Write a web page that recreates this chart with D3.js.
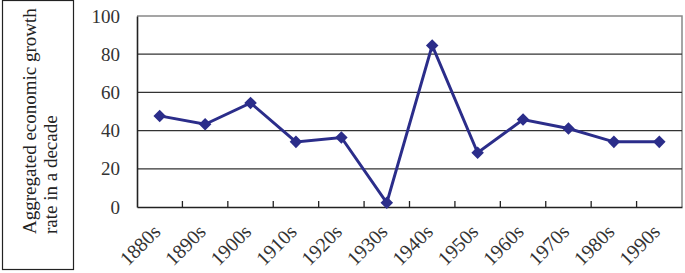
<!DOCTYPE html>
<html><head><meta charset="utf-8">
<script src="https://cdn.jsdelivr.net/npm/d3@7"></script>
<style>body{margin:0;background:#fff}svg{display:block}text{font-family:"Liberation Serif","DejaVu Serif",serif}</style>
</head><body>
<script>
const categories = ["1880s","1890s","1900s","1910s","1920s","1930s","1940s","1950s","1960s","1970s","1980s","1990s"];
const values = [47.7, 43.3, 54.5, 34.1, 36.4, 2.2, 84.6, 28.4, 45.8, 41.1, 34.1, 34.1];
const yTicks = [0, 20, 40, 60, 80, 100];
const yTitleLines = ["Aggregated economic growth", "rate in a decade"];

const W = 685, H = 273;
const m = {left: 137, right: 3, top: 16, bottom: 66};
const svg = d3.select("body").append("svg").attr("width", W).attr("height", H);

const x = d3.scaleBand().domain(categories).range([m.left, W - m.right]);
const y = d3.scaleLinear().domain([0, 100]).range([H - m.bottom, m.top]);

// title box
svg.append("rect").attr("x", 2.5).attr("y", 0.5).attr("width", 71).attr("height", 269)
  .attr("fill", "none").attr("stroke", "#222").attr("stroke-width", 1.2);
const tg = svg.append("g").attr("transform", "translate(39,234) rotate(-90)");
tg.selectAll("text").data(yTitleLines).enter().append("text")
  .attr("x", 0).attr("y", (d, i) => -10 + i * 21).attr("dy", "0.35em")
  .attr("text-anchor", "start").attr("font-size", 19)
  .attr("fill", "#222").text(d => d);

// plot frame top/right
svg.append("path")
  .attr("d", `M${m.left},${m.top}H${W - m.right}V${H - m.bottom}`)
  .attr("fill", "none").attr("stroke", "#888").attr("stroke-width", 1.5);

// gridlines
svg.append("g").selectAll("line").data(yTicks.filter(t => t > 0 && t < 100)).enter().append("line")
  .attr("x1", m.left).attr("x2", W - m.right)
  .attr("y1", d => y(d)).attr("y2", d => y(d))
  .attr("stroke", "#333").attr("stroke-width", 1.3);

// y axis
const yAxis = svg.append("g").attr("transform", `translate(${m.left},0)`)
  .call(d3.axisLeft(y).tickValues(yTicks).tickSize(0).tickPadding(17));
yAxis.attr("font-family", null);
yAxis.select(".domain").attr("stroke", "#222").attr("stroke-width", 1.6);
yAxis.selectAll("text").attr("font-size", 19).attr("fill", "#333");

// x axis
const xAxis = svg.append("g").attr("transform", `translate(0,${H - m.bottom})`)
  .call(d3.axisBottom(x).tickSize(0).tickFormat(""));
xAxis.select(".domain").attr("stroke", "#222").attr("stroke-width", 1.6);
svg.append("g").selectAll("line").data(categories.slice(1)).enter().append("line")
  .attr("x1", d => x(d)).attr("x2", d => x(d))
  .attr("y1", H - m.bottom).attr("y2", H - m.bottom - 6)
  .attr("stroke", "#222").attr("stroke-width", 1.3);
svg.append("g").selectAll("text").data(categories).enter().append("text")
  .attr("transform", d => `translate(${x(d) + x.bandwidth() / 2 + 2},${H - m.bottom + 26}) rotate(-45)`)
  .attr("text-anchor", "end").attr("font-size", 20).attr("fill", "#333")
  .text(d => d);

// line
const color = "#2b2d8a";
const pts = categories.map((c, i) => [x(c) + x.bandwidth() / 2, y(values[i])]);
svg.append("path").attr("d", d3.line()(pts)).attr("fill", "none")
  .attr("stroke", color).attr("stroke-width", 3).attr("stroke-linejoin", "miter");
svg.append("g").selectAll("path").data(pts).enter().append("path")
  .attr("transform", d => `translate(${d[0]},${d[1]})`)
  .attr("d", d3.symbol().type(d3.symbolDiamond2).size(100)).attr("fill", color);
</script>
</body></html>
